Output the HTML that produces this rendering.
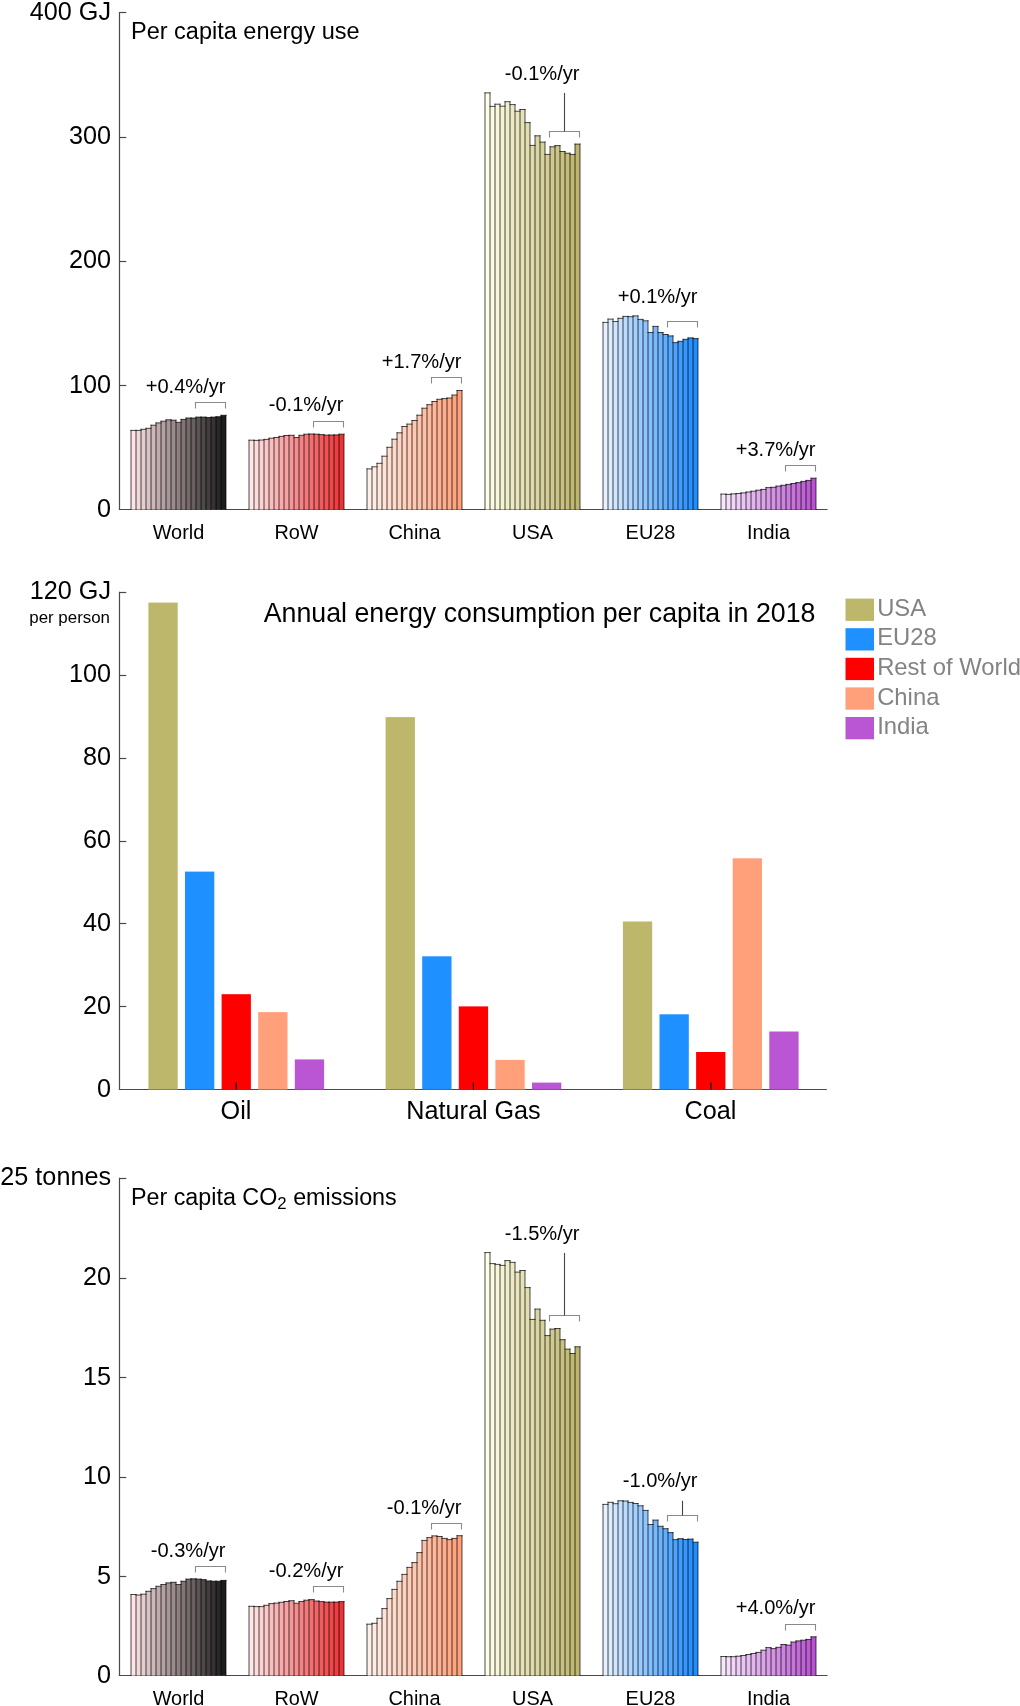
<!DOCTYPE html>
<html><head><meta charset="utf-8"><style>
html,body{margin:0;padding:0;background:#fff;}
body{width:1020px;height:1706px;overflow:hidden;}
svg{display:block;font-family:"Liberation Sans", sans-serif;-webkit-font-smoothing:antialiased;will-change:transform;}
</style></head><body>
<svg width="1020" height="1706" viewBox="0 0 1020 1706">
<rect width="1020" height="1706" fill="#fff"/>
<line x1="119.5" y1="11.9" x2="119.5" y2="510.1" stroke="#4a4a4a" stroke-width="1.2"/>
<line x1="118.9" y1="509.5" x2="827.5" y2="509.5" stroke="#4a4a4a" stroke-width="1.2"/>
<line x1="119.5" y1="12.5" x2="126.3" y2="12.5" stroke="#4a4a4a" stroke-width="1.2"/>
<text x="111" y="19.5" font-size="25.2" text-anchor="end" fill="#000" >400 GJ</text>
<line x1="119.5" y1="137.5" x2="126.3" y2="137.5" stroke="#4a4a4a" stroke-width="1.2"/>
<text x="111" y="144.0" font-size="25.2" text-anchor="end" fill="#000" >300</text>
<line x1="119.5" y1="261.5" x2="126.3" y2="261.5" stroke="#4a4a4a" stroke-width="1.2"/>
<text x="111" y="268.2" font-size="25.2" text-anchor="end" fill="#000" >200</text>
<line x1="119.5" y1="385.5" x2="126.3" y2="385.5" stroke="#4a4a4a" stroke-width="1.2"/>
<text x="111" y="392.6" font-size="25.2" text-anchor="end" fill="#000" >100</text>
<text x="111" y="516.5" font-size="25.2" text-anchor="end" fill="#000" >0</text>
<rect x="131.00" y="430.4" width="5.0" height="79.1" fill="#ffe4e6"/>
<rect x="136.00" y="430.4" width="5.0" height="79.1" fill="#f2d9db"/>
<rect x="141.00" y="429.3" width="5.0" height="80.2" fill="#e6ced0"/>
<rect x="146.00" y="428.3" width="5.0" height="81.2" fill="#d9c3c4"/>
<rect x="151.00" y="425.2" width="5.0" height="84.3" fill="#cdb8b9"/>
<rect x="156.00" y="422.9" width="5.0" height="86.6" fill="#c0acae"/>
<rect x="161.00" y="421.2" width="5.0" height="88.3" fill="#b3a1a3"/>
<rect x="166.00" y="419.8" width="5.0" height="89.7" fill="#a79697"/>
<rect x="171.00" y="420.2" width="5.0" height="89.3" fill="#9a8b8c"/>
<rect x="176.00" y="422.3" width="5.0" height="87.2" fill="#8e8081"/>
<rect x="181.00" y="419.4" width="5.0" height="90.1" fill="#817576"/>
<rect x="186.00" y="418.0" width="5.0" height="91.5" fill="#746a6b"/>
<rect x="191.00" y="418.0" width="5.0" height="91.5" fill="#685f5f"/>
<rect x="196.00" y="417.1" width="5.0" height="92.4" fill="#5b5454"/>
<rect x="201.00" y="417.1" width="5.0" height="92.4" fill="#4e4849"/>
<rect x="206.00" y="417.5" width="5.0" height="92.0" fill="#423d3e"/>
<rect x="211.00" y="417.1" width="5.0" height="92.4" fill="#353232"/>
<rect x="216.00" y="416.7" width="5.0" height="92.8" fill="#292727"/>
<rect x="221.00" y="415.3" width="5.0" height="94.2" fill="#1c1c1c"/>
<path d="M131.00,509.5V430.4 M136.00,509.5V430.4 M141.00,509.5V429.3 M146.00,509.5V428.3 M151.00,509.5V425.2 M156.00,509.5V422.9 M161.00,509.5V421.2 M166.00,509.5V419.8 M171.00,509.5V419.8 M176.00,509.5V420.2 M181.00,509.5V419.4 M186.00,509.5V418.0 M191.00,509.5V418.0 M196.00,509.5V417.1 M201.00,509.5V417.1 M206.00,509.5V417.1 M211.00,509.5V417.1 M216.00,509.5V416.7 M221.00,509.5V415.3 M226.00,509.5V415.3 M131.00,430.4H136.00 M136.00,430.4H141.00 M141.00,429.3H146.00 M146.00,428.3H151.00 M151.00,425.2H156.00 M156.00,422.9H161.00 M161.00,421.2H166.00 M166.00,419.8H171.00 M171.00,420.2H176.00 M176.00,422.3H181.00 M181.00,419.4H186.00 M186.00,418.0H191.00 M191.00,418.0H196.00 M196.00,417.1H201.00 M201.00,417.1H206.00 M206.00,417.5H211.00 M211.00,417.1H216.00 M216.00,416.7H221.00 M221.00,415.3H226.00" fill="none" stroke="#000" stroke-opacity="0.7" stroke-width="1.0" stroke-linecap="square"/>
<path d="M195.5,408.5 V402.5 H225.5 V408.5" fill="none" stroke="#8a8a8a" stroke-width="1.1"/>
<text x="225.5" y="392.8" font-size="20.1" text-anchor="end" fill="#000" >+0.4%/yr</text>
<text x="178.5" y="538.9" font-size="19.9" text-anchor="middle" fill="#000" >World</text>
<rect x="249.00" y="440.2" width="5.0" height="69.3" fill="#ffe6e6"/>
<rect x="254.00" y="440.4" width="5.0" height="69.1" fill="#fedcdc"/>
<rect x="259.00" y="440.0" width="5.0" height="69.5" fill="#fdd2d2"/>
<rect x="264.00" y="439.4" width="5.0" height="70.1" fill="#fcc8c9"/>
<rect x="269.00" y="438.2" width="5.0" height="71.3" fill="#fbbebf"/>
<rect x="274.00" y="437.5" width="5.0" height="72.0" fill="#fab4b5"/>
<rect x="279.00" y="436.4" width="5.0" height="73.1" fill="#f9aaab"/>
<rect x="284.00" y="435.5" width="5.0" height="74.0" fill="#f8a0a2"/>
<rect x="289.00" y="435.3" width="5.0" height="74.2" fill="#f79698"/>
<rect x="294.00" y="437.5" width="5.0" height="72.0" fill="#f68c8e"/>
<rect x="299.00" y="435.3" width="5.0" height="74.2" fill="#f68384"/>
<rect x="304.00" y="434.2" width="5.0" height="75.3" fill="#f5797a"/>
<rect x="309.00" y="434.0" width="5.0" height="75.5" fill="#f46f71"/>
<rect x="314.00" y="434.2" width="5.0" height="75.3" fill="#f36567"/>
<rect x="319.00" y="434.6" width="5.0" height="74.9" fill="#f25b5d"/>
<rect x="324.00" y="435.1" width="5.0" height="74.4" fill="#f15153"/>
<rect x="329.00" y="435.0" width="5.0" height="74.5" fill="#f0474a"/>
<rect x="334.00" y="434.9" width="5.0" height="74.6" fill="#ef3d40"/>
<rect x="339.00" y="434.2" width="5.0" height="75.3" fill="#ee3336"/>
<path d="M249.00,509.5V440.2 M254.00,509.5V440.2 M259.00,509.5V440.0 M264.00,509.5V439.4 M269.00,509.5V438.2 M274.00,509.5V437.5 M279.00,509.5V436.4 M284.00,509.5V435.5 M289.00,509.5V435.3 M294.00,509.5V435.3 M299.00,509.5V435.3 M304.00,509.5V434.2 M309.00,509.5V434.0 M314.00,509.5V434.0 M319.00,509.5V434.2 M324.00,509.5V434.6 M329.00,509.5V435.0 M334.00,509.5V434.9 M339.00,509.5V434.2 M344.00,509.5V434.2 M249.00,440.2H254.00 M254.00,440.4H259.00 M259.00,440.0H264.00 M264.00,439.4H269.00 M269.00,438.2H274.00 M274.00,437.5H279.00 M279.00,436.4H284.00 M284.00,435.5H289.00 M289.00,435.3H294.00 M294.00,437.5H299.00 M299.00,435.3H304.00 M304.00,434.2H309.00 M309.00,434.0H314.00 M314.00,434.2H319.00 M319.00,434.6H324.00 M324.00,435.1H329.00 M329.00,435.0H334.00 M334.00,434.9H339.00 M339.00,434.2H344.00" fill="none" stroke="#000" stroke-opacity="0.7" stroke-width="1.0" stroke-linecap="square"/>
<path d="M313.5,427.5 V421.5 H343.5 V427.5" fill="none" stroke="#8a8a8a" stroke-width="1.1"/>
<text x="343.5" y="411.3" font-size="20.1" text-anchor="end" fill="#000" >-0.1%/yr</text>
<text x="296.5" y="538.9" font-size="19.9" text-anchor="middle" fill="#000" >RoW</text>
<rect x="367.00" y="468.9" width="5.0" height="40.6" fill="#fff0ea"/>
<rect x="372.00" y="466.8" width="5.0" height="42.7" fill="#ffece4"/>
<rect x="377.00" y="463.3" width="5.0" height="46.2" fill="#ffe7de"/>
<rect x="382.00" y="456.2" width="5.0" height="53.3" fill="#ffe3d7"/>
<rect x="387.00" y="447.3" width="5.0" height="62.2" fill="#ffded1"/>
<rect x="392.00" y="439.2" width="5.0" height="70.3" fill="#ffdacb"/>
<rect x="397.00" y="432.8" width="5.0" height="76.7" fill="#ffd5c5"/>
<rect x="402.00" y="426.5" width="5.0" height="83.0" fill="#ffd1be"/>
<rect x="407.00" y="424.1" width="5.0" height="85.4" fill="#ffccb8"/>
<rect x="412.00" y="420.5" width="5.0" height="89.0" fill="#ffc8b2"/>
<rect x="417.00" y="415.2" width="5.0" height="94.3" fill="#ffc4ac"/>
<rect x="422.00" y="408.2" width="5.0" height="101.3" fill="#ffbfa6"/>
<rect x="427.00" y="404.7" width="5.0" height="104.8" fill="#ffbb9f"/>
<rect x="432.00" y="401.5" width="5.0" height="108.0" fill="#ffb699"/>
<rect x="437.00" y="399.3" width="5.0" height="110.2" fill="#ffb293"/>
<rect x="442.00" y="398.6" width="5.0" height="110.9" fill="#ffad8d"/>
<rect x="447.00" y="398.0" width="5.0" height="111.5" fill="#ffa986"/>
<rect x="452.00" y="395.0" width="5.0" height="114.5" fill="#ffa480"/>
<rect x="457.00" y="390.5" width="5.0" height="119.0" fill="#ffa07a"/>
<path d="M367.00,509.5V468.9 M372.00,509.5V466.8 M377.00,509.5V463.3 M382.00,509.5V456.2 M387.00,509.5V447.3 M392.00,509.5V439.2 M397.00,509.5V432.8 M402.00,509.5V426.5 M407.00,509.5V424.1 M412.00,509.5V420.5 M417.00,509.5V415.2 M422.00,509.5V408.2 M427.00,509.5V404.7 M432.00,509.5V401.5 M437.00,509.5V399.3 M442.00,509.5V398.6 M447.00,509.5V398.0 M452.00,509.5V395.0 M457.00,509.5V390.5 M462.00,509.5V390.5 M367.00,468.9H372.00 M372.00,466.8H377.00 M377.00,463.3H382.00 M382.00,456.2H387.00 M387.00,447.3H392.00 M392.00,439.2H397.00 M397.00,432.8H402.00 M402.00,426.5H407.00 M407.00,424.1H412.00 M412.00,420.5H417.00 M417.00,415.2H422.00 M422.00,408.2H427.00 M427.00,404.7H432.00 M432.00,401.5H437.00 M437.00,399.3H442.00 M442.00,398.6H447.00 M447.00,398.0H452.00 M452.00,395.0H457.00 M457.00,390.5H462.00" fill="none" stroke="#000" stroke-opacity="0.7" stroke-width="1.0" stroke-linecap="square"/>
<path d="M431.5,383.5 V377.5 H461.5 V383.5" fill="none" stroke="#8a8a8a" stroke-width="1.1"/>
<text x="461.5" y="368.2" font-size="20.1" text-anchor="end" fill="#000" >+1.7%/yr</text>
<text x="414.5" y="538.9" font-size="19.9" text-anchor="middle" fill="#000" >China</text>
<rect x="485.00" y="92.9" width="5.0" height="416.6" fill="#ffffe8"/>
<rect x="490.00" y="106.4" width="5.0" height="403.1" fill="#fbfbe1"/>
<rect x="495.00" y="104.2" width="5.0" height="405.3" fill="#f8f7da"/>
<rect x="500.00" y="106.2" width="5.0" height="403.3" fill="#f4f3d3"/>
<rect x="505.00" y="101.7" width="5.0" height="407.8" fill="#f0efcc"/>
<rect x="510.00" y="104.6" width="5.0" height="404.9" fill="#edeac5"/>
<rect x="515.00" y="111.2" width="5.0" height="398.3" fill="#e9e6be"/>
<rect x="520.00" y="109.5" width="5.0" height="400.0" fill="#e5e2b7"/>
<rect x="525.00" y="122.6" width="5.0" height="386.9" fill="#e2deb0"/>
<rect x="530.00" y="145.4" width="5.0" height="364.1" fill="#dedaaa"/>
<rect x="535.00" y="135.8" width="5.0" height="373.7" fill="#dad6a3"/>
<rect x="540.00" y="142.1" width="5.0" height="367.4" fill="#d7d29c"/>
<rect x="545.00" y="154.4" width="5.0" height="355.1" fill="#d3ce95"/>
<rect x="550.00" y="146.8" width="5.0" height="362.7" fill="#cfca8e"/>
<rect x="555.00" y="145.6" width="5.0" height="363.9" fill="#ccc587"/>
<rect x="560.00" y="151.5" width="5.0" height="358.0" fill="#c8c180"/>
<rect x="565.00" y="153.2" width="5.0" height="356.3" fill="#c4bd79"/>
<rect x="570.00" y="154.4" width="5.0" height="355.1" fill="#c1b972"/>
<rect x="575.00" y="144.1" width="5.0" height="365.4" fill="#bdb56b"/>
<path d="M485.00,509.5V92.9 M490.00,509.5V92.9 M495.00,509.5V104.2 M500.00,509.5V104.2 M505.00,509.5V101.7 M510.00,509.5V101.7 M515.00,509.5V104.6 M520.00,509.5V109.5 M525.00,509.5V109.5 M530.00,509.5V122.6 M535.00,509.5V135.8 M540.00,509.5V135.8 M545.00,509.5V142.1 M550.00,509.5V146.8 M555.00,509.5V145.6 M560.00,509.5V145.6 M565.00,509.5V151.5 M570.00,509.5V153.2 M575.00,509.5V144.1 M580.00,509.5V144.1 M485.00,92.9H490.00 M490.00,106.4H495.00 M495.00,104.2H500.00 M500.00,106.2H505.00 M505.00,101.7H510.00 M510.00,104.6H515.00 M515.00,111.2H520.00 M520.00,109.5H525.00 M525.00,122.6H530.00 M530.00,145.4H535.00 M535.00,135.8H540.00 M540.00,142.1H545.00 M545.00,154.4H550.00 M550.00,146.8H555.00 M555.00,145.6H560.00 M560.00,151.5H565.00 M565.00,153.2H570.00 M570.00,154.4H575.00 M575.00,144.1H580.00" fill="none" stroke="#000" stroke-opacity="0.7" stroke-width="1.0" stroke-linecap="square"/>
<path d="M549.5,137.5 V131.5 H579.5 V137.5" fill="none" stroke="#8a8a8a" stroke-width="1.1"/>
<line x1="564.5" y1="131.5" x2="564.5" y2="92.9" stroke="#444" stroke-width="1.1"/>
<text x="579.5" y="79.8" font-size="20.1" text-anchor="end" fill="#000" >-0.1%/yr</text>
<text x="532.5" y="538.9" font-size="19.9" text-anchor="middle" fill="#000" >USA</text>
<rect x="603.00" y="322.4" width="5.0" height="187.1" fill="#e6f2ff"/>
<rect x="608.00" y="319.1" width="5.0" height="190.4" fill="#dbecff"/>
<rect x="613.00" y="321.5" width="5.0" height="188.0" fill="#d0e7ff"/>
<rect x="618.00" y="318.3" width="5.0" height="191.2" fill="#c5e1ff"/>
<rect x="623.00" y="316.4" width="5.0" height="193.1" fill="#badbff"/>
<rect x="628.00" y="316.7" width="5.0" height="192.8" fill="#aed6ff"/>
<rect x="633.00" y="315.9" width="5.0" height="193.6" fill="#a3d0ff"/>
<rect x="638.00" y="319.4" width="5.0" height="190.1" fill="#98caff"/>
<rect x="643.00" y="320.8" width="5.0" height="188.7" fill="#8dc5ff"/>
<rect x="648.00" y="332.5" width="5.0" height="177.0" fill="#82bfff"/>
<rect x="653.00" y="326.4" width="5.0" height="183.1" fill="#77b9ff"/>
<rect x="658.00" y="332.5" width="5.0" height="177.0" fill="#6cb4ff"/>
<rect x="663.00" y="334.5" width="5.0" height="175.0" fill="#61aeff"/>
<rect x="668.00" y="335.9" width="5.0" height="173.6" fill="#56a8ff"/>
<rect x="673.00" y="342.6" width="5.0" height="166.9" fill="#4aa3ff"/>
<rect x="678.00" y="341.3" width="5.0" height="168.2" fill="#3f9dff"/>
<rect x="683.00" y="339.3" width="5.0" height="170.2" fill="#3497ff"/>
<rect x="688.00" y="337.9" width="5.0" height="171.6" fill="#2992ff"/>
<rect x="693.00" y="338.6" width="5.0" height="170.9" fill="#1e8cff"/>
<path d="M603.00,509.5V322.4 M608.00,509.5V319.1 M613.00,509.5V319.1 M618.00,509.5V318.3 M623.00,509.5V316.4 M628.00,509.5V316.4 M633.00,509.5V315.9 M638.00,509.5V315.9 M643.00,509.5V319.4 M648.00,509.5V320.8 M653.00,509.5V326.4 M658.00,509.5V326.4 M663.00,509.5V332.5 M668.00,509.5V334.5 M673.00,509.5V335.9 M678.00,509.5V341.3 M683.00,509.5V339.3 M688.00,509.5V337.9 M693.00,509.5V337.9 M698.00,509.5V338.6 M603.00,322.4H608.00 M608.00,319.1H613.00 M613.00,321.5H618.00 M618.00,318.3H623.00 M623.00,316.4H628.00 M628.00,316.7H633.00 M633.00,315.9H638.00 M638.00,319.4H643.00 M643.00,320.8H648.00 M648.00,332.5H653.00 M653.00,326.4H658.00 M658.00,332.5H663.00 M663.00,334.5H668.00 M668.00,335.9H673.00 M673.00,342.6H678.00 M678.00,341.3H683.00 M683.00,339.3H688.00 M688.00,337.9H693.00 M693.00,338.6H698.00" fill="none" stroke="#000" stroke-opacity="0.7" stroke-width="1.0" stroke-linecap="square"/>
<path d="M667.5,327.5 V321.5 H697.5 V327.5" fill="none" stroke="#8a8a8a" stroke-width="1.1"/>
<text x="697.5" y="303.0" font-size="20.1" text-anchor="end" fill="#000" >+0.1%/yr</text>
<text x="650.5" y="538.9" font-size="19.9" text-anchor="middle" fill="#000" >EU28</text>
<rect x="721.00" y="494.1" width="5.0" height="15.4" fill="#f8e6fc"/>
<rect x="726.00" y="494.4" width="5.0" height="15.1" fill="#f4defa"/>
<rect x="731.00" y="493.9" width="5.0" height="15.6" fill="#f1d6f7"/>
<rect x="736.00" y="493.5" width="5.0" height="16.0" fill="#edcdf5"/>
<rect x="741.00" y="492.9" width="5.0" height="16.6" fill="#eac5f3"/>
<rect x="746.00" y="492.0" width="5.0" height="17.5" fill="#e6bdf0"/>
<rect x="751.00" y="491.2" width="5.0" height="18.3" fill="#e3b5ee"/>
<rect x="756.00" y="490.2" width="5.0" height="19.3" fill="#dfacec"/>
<rect x="761.00" y="489.4" width="5.0" height="20.1" fill="#dca4e9"/>
<rect x="766.00" y="487.6" width="5.0" height="21.9" fill="#d89ce7"/>
<rect x="771.00" y="487.3" width="5.0" height="22.2" fill="#d494e5"/>
<rect x="776.00" y="486.1" width="5.0" height="23.4" fill="#d18ce2"/>
<rect x="781.00" y="485.3" width="5.0" height="24.2" fill="#cd83e0"/>
<rect x="786.00" y="484.4" width="5.0" height="25.1" fill="#ca7bde"/>
<rect x="791.00" y="483.5" width="5.0" height="26.0" fill="#c673db"/>
<rect x="796.00" y="482.6" width="5.0" height="26.9" fill="#c36bd9"/>
<rect x="801.00" y="481.4" width="5.0" height="28.1" fill="#bf62d7"/>
<rect x="806.00" y="480.4" width="5.0" height="29.1" fill="#bc5ad4"/>
<rect x="811.00" y="478.2" width="5.0" height="31.3" fill="#b852d2"/>
<path d="M721.00,509.5V494.1 M726.00,509.5V494.1 M731.00,509.5V493.9 M736.00,509.5V493.5 M741.00,509.5V492.9 M746.00,509.5V492.0 M751.00,509.5V491.2 M756.00,509.5V490.2 M761.00,509.5V489.4 M766.00,509.5V487.6 M771.00,509.5V487.3 M776.00,509.5V486.1 M781.00,509.5V485.3 M786.00,509.5V484.4 M791.00,509.5V483.5 M796.00,509.5V482.6 M801.00,509.5V481.4 M806.00,509.5V480.4 M811.00,509.5V478.2 M816.00,509.5V478.2 M721.00,494.1H726.00 M726.00,494.4H731.00 M731.00,493.9H736.00 M736.00,493.5H741.00 M741.00,492.9H746.00 M746.00,492.0H751.00 M751.00,491.2H756.00 M756.00,490.2H761.00 M761.00,489.4H766.00 M766.00,487.6H771.00 M771.00,487.3H776.00 M776.00,486.1H781.00 M781.00,485.3H786.00 M786.00,484.4H791.00 M791.00,483.5H796.00 M796.00,482.6H801.00 M801.00,481.4H806.00 M806.00,480.4H811.00 M811.00,478.2H816.00" fill="none" stroke="#000" stroke-opacity="0.7" stroke-width="1.0" stroke-linecap="square"/>
<path d="M785.5,471.5 V465.5 H815.5 V471.5" fill="none" stroke="#8a8a8a" stroke-width="1.1"/>
<text x="815.5" y="456.0" font-size="20.1" text-anchor="end" fill="#000" >+3.7%/yr</text>
<text x="768.5" y="538.9" font-size="19.9" text-anchor="middle" fill="#000" >India</text>
<text x="131" y="38.7" font-size="23.5" text-anchor="start" fill="#000" >Per capita energy use</text>
<line x1="119.5" y1="1177.7" x2="119.5" y2="1676.1" stroke="#4a4a4a" stroke-width="1.2"/>
<line x1="118.9" y1="1675.5" x2="827.5" y2="1675.5" stroke="#4a4a4a" stroke-width="1.2"/>
<line x1="119.5" y1="1178.5" x2="126.3" y2="1178.5" stroke="#4a4a4a" stroke-width="1.2"/>
<text x="111" y="1185.3" font-size="25.2" text-anchor="end" fill="#000" >25 tonnes</text>
<line x1="119.5" y1="1278.5" x2="126.3" y2="1278.5" stroke="#4a4a4a" stroke-width="1.2"/>
<text x="111" y="1285.0" font-size="25.2" text-anchor="end" fill="#000" >20</text>
<line x1="119.5" y1="1377.5" x2="126.3" y2="1377.5" stroke="#4a4a4a" stroke-width="1.2"/>
<text x="111" y="1384.6" font-size="25.2" text-anchor="end" fill="#000" >15</text>
<line x1="119.5" y1="1477.5" x2="126.3" y2="1477.5" stroke="#4a4a4a" stroke-width="1.2"/>
<text x="111" y="1484.2" font-size="25.2" text-anchor="end" fill="#000" >10</text>
<line x1="119.5" y1="1576.5" x2="126.3" y2="1576.5" stroke="#4a4a4a" stroke-width="1.2"/>
<text x="111" y="1583.6" font-size="25.2" text-anchor="end" fill="#000" >5</text>
<text x="111" y="1682.5" font-size="25.2" text-anchor="end" fill="#000" >0</text>
<rect x="131.00" y="1594.5" width="5.0" height="81.0" fill="#ffe4e6"/>
<rect x="136.00" y="1595.0" width="5.0" height="80.5" fill="#f2d9db"/>
<rect x="141.00" y="1594.2" width="5.0" height="81.3" fill="#e6ced0"/>
<rect x="146.00" y="1591.3" width="5.0" height="84.2" fill="#d9c3c4"/>
<rect x="151.00" y="1588.6" width="5.0" height="86.9" fill="#cdb8b9"/>
<rect x="156.00" y="1586.3" width="5.0" height="89.2" fill="#c0acae"/>
<rect x="161.00" y="1584.5" width="5.0" height="91.0" fill="#b3a1a3"/>
<rect x="166.00" y="1582.9" width="5.0" height="92.6" fill="#a79697"/>
<rect x="171.00" y="1582.3" width="5.0" height="93.2" fill="#9a8b8c"/>
<rect x="176.00" y="1584.5" width="5.0" height="91.0" fill="#8e8081"/>
<rect x="181.00" y="1581.2" width="5.0" height="94.3" fill="#817576"/>
<rect x="186.00" y="1579.1" width="5.0" height="96.4" fill="#746a6b"/>
<rect x="191.00" y="1578.8" width="5.0" height="96.7" fill="#685f5f"/>
<rect x="196.00" y="1579.1" width="5.0" height="96.4" fill="#5b5454"/>
<rect x="201.00" y="1579.6" width="5.0" height="95.9" fill="#4e4849"/>
<rect x="206.00" y="1580.9" width="5.0" height="94.6" fill="#423d3e"/>
<rect x="211.00" y="1581.2" width="5.0" height="94.3" fill="#353232"/>
<rect x="216.00" y="1581.2" width="5.0" height="94.3" fill="#292727"/>
<rect x="221.00" y="1580.4" width="5.0" height="95.1" fill="#1c1c1c"/>
<path d="M131.00,1675.5V1594.5 M136.00,1675.5V1594.5 M141.00,1675.5V1594.2 M146.00,1675.5V1591.3 M151.00,1675.5V1588.6 M156.00,1675.5V1586.3 M161.00,1675.5V1584.5 M166.00,1675.5V1582.9 M171.00,1675.5V1582.3 M176.00,1675.5V1582.3 M181.00,1675.5V1581.2 M186.00,1675.5V1579.1 M191.00,1675.5V1578.8 M196.00,1675.5V1578.8 M201.00,1675.5V1579.1 M206.00,1675.5V1579.6 M211.00,1675.5V1580.9 M216.00,1675.5V1581.2 M221.00,1675.5V1580.4 M226.00,1675.5V1580.4 M131.00,1594.5H136.00 M136.00,1595.0H141.00 M141.00,1594.2H146.00 M146.00,1591.3H151.00 M151.00,1588.6H156.00 M156.00,1586.3H161.00 M161.00,1584.5H166.00 M166.00,1582.9H171.00 M171.00,1582.3H176.00 M176.00,1584.5H181.00 M181.00,1581.2H186.00 M186.00,1579.1H191.00 M191.00,1578.8H196.00 M196.00,1579.1H201.00 M201.00,1579.6H206.00 M206.00,1580.9H211.00 M211.00,1581.2H216.00 M216.00,1581.2H221.00 M221.00,1580.4H226.00" fill="none" stroke="#000" stroke-opacity="0.7" stroke-width="1.0" stroke-linecap="square"/>
<path d="M195.5,1572.5 V1566.5 H225.5 V1572.5" fill="none" stroke="#8a8a8a" stroke-width="1.1"/>
<text x="225.5" y="1556.6" font-size="20.1" text-anchor="end" fill="#000" >-0.3%/yr</text>
<text x="178.5" y="1705.0" font-size="19.9" text-anchor="middle" fill="#000" >World</text>
<rect x="249.00" y="1606.3" width="5.0" height="69.2" fill="#ffe6e6"/>
<rect x="254.00" y="1606.6" width="5.0" height="68.9" fill="#fedcdc"/>
<rect x="259.00" y="1606.6" width="5.0" height="68.9" fill="#fdd2d2"/>
<rect x="264.00" y="1605.3" width="5.0" height="70.2" fill="#fcc8c9"/>
<rect x="269.00" y="1603.6" width="5.0" height="71.9" fill="#fbbebf"/>
<rect x="274.00" y="1603.1" width="5.0" height="72.4" fill="#fab4b5"/>
<rect x="279.00" y="1602.3" width="5.0" height="73.2" fill="#f9aaab"/>
<rect x="284.00" y="1601.5" width="5.0" height="74.0" fill="#f8a0a2"/>
<rect x="289.00" y="1600.7" width="5.0" height="74.8" fill="#f79698"/>
<rect x="294.00" y="1603.2" width="5.0" height="72.3" fill="#f68c8e"/>
<rect x="299.00" y="1601.5" width="5.0" height="74.0" fill="#f68384"/>
<rect x="304.00" y="1600.2" width="5.0" height="75.3" fill="#f5797a"/>
<rect x="309.00" y="1599.6" width="5.0" height="75.9" fill="#f46f71"/>
<rect x="314.00" y="1601.0" width="5.0" height="74.5" fill="#f36567"/>
<rect x="319.00" y="1601.6" width="5.0" height="73.9" fill="#f25b5d"/>
<rect x="324.00" y="1602.1" width="5.0" height="73.4" fill="#f15153"/>
<rect x="329.00" y="1602.1" width="5.0" height="73.4" fill="#f0474a"/>
<rect x="334.00" y="1602.1" width="5.0" height="73.4" fill="#ef3d40"/>
<rect x="339.00" y="1601.6" width="5.0" height="73.9" fill="#ee3336"/>
<path d="M249.00,1675.5V1606.3 M254.00,1675.5V1606.3 M259.00,1675.5V1606.6 M264.00,1675.5V1605.3 M269.00,1675.5V1603.6 M274.00,1675.5V1603.1 M279.00,1675.5V1602.3 M284.00,1675.5V1601.5 M289.00,1675.5V1600.7 M294.00,1675.5V1600.7 M299.00,1675.5V1601.5 M304.00,1675.5V1600.2 M309.00,1675.5V1599.6 M314.00,1675.5V1599.6 M319.00,1675.5V1601.0 M324.00,1675.5V1601.6 M329.00,1675.5V1602.1 M334.00,1675.5V1602.1 M339.00,1675.5V1601.6 M344.00,1675.5V1601.6 M249.00,1606.3H254.00 M254.00,1606.6H259.00 M259.00,1606.6H264.00 M264.00,1605.3H269.00 M269.00,1603.6H274.00 M274.00,1603.1H279.00 M279.00,1602.3H284.00 M284.00,1601.5H289.00 M289.00,1600.7H294.00 M294.00,1603.2H299.00 M299.00,1601.5H304.00 M304.00,1600.2H309.00 M309.00,1599.6H314.00 M314.00,1601.0H319.00 M319.00,1601.6H324.00 M324.00,1602.1H329.00 M329.00,1602.1H334.00 M334.00,1602.1H339.00 M339.00,1601.6H344.00" fill="none" stroke="#000" stroke-opacity="0.7" stroke-width="1.0" stroke-linecap="square"/>
<path d="M313.5,1592.5 V1586.5 H343.5 V1592.5" fill="none" stroke="#8a8a8a" stroke-width="1.1"/>
<text x="343.5" y="1576.6" font-size="20.1" text-anchor="end" fill="#000" >-0.2%/yr</text>
<text x="296.5" y="1705.0" font-size="19.9" text-anchor="middle" fill="#000" >RoW</text>
<rect x="367.00" y="1624.2" width="5.0" height="51.3" fill="#fff0ea"/>
<rect x="372.00" y="1623.3" width="5.0" height="52.2" fill="#ffece4"/>
<rect x="377.00" y="1618.3" width="5.0" height="57.2" fill="#ffe7de"/>
<rect x="382.00" y="1608.6" width="5.0" height="66.9" fill="#ffe3d7"/>
<rect x="387.00" y="1598.6" width="5.0" height="76.9" fill="#ffded1"/>
<rect x="392.00" y="1589.4" width="5.0" height="86.1" fill="#ffdacb"/>
<rect x="397.00" y="1581.3" width="5.0" height="94.2" fill="#ffd5c5"/>
<rect x="402.00" y="1574.4" width="5.0" height="101.1" fill="#ffd1be"/>
<rect x="407.00" y="1567.4" width="5.0" height="108.1" fill="#ffccb8"/>
<rect x="412.00" y="1562.6" width="5.0" height="112.9" fill="#ffc8b2"/>
<rect x="417.00" y="1552.6" width="5.0" height="122.9" fill="#ffc4ac"/>
<rect x="422.00" y="1540.4" width="5.0" height="135.1" fill="#ffbfa6"/>
<rect x="427.00" y="1537.6" width="5.0" height="137.9" fill="#ffbb9f"/>
<rect x="432.00" y="1535.9" width="5.0" height="139.6" fill="#ffb699"/>
<rect x="437.00" y="1536.5" width="5.0" height="139.0" fill="#ffb293"/>
<rect x="442.00" y="1538.4" width="5.0" height="137.1" fill="#ffad8d"/>
<rect x="447.00" y="1539.6" width="5.0" height="135.9" fill="#ffa986"/>
<rect x="452.00" y="1538.4" width="5.0" height="137.1" fill="#ffa480"/>
<rect x="457.00" y="1535.7" width="5.0" height="139.8" fill="#ffa07a"/>
<path d="M367.00,1675.5V1624.2 M372.00,1675.5V1623.3 M377.00,1675.5V1618.3 M382.00,1675.5V1608.6 M387.00,1675.5V1598.6 M392.00,1675.5V1589.4 M397.00,1675.5V1581.3 M402.00,1675.5V1574.4 M407.00,1675.5V1567.4 M412.00,1675.5V1562.6 M417.00,1675.5V1552.6 M422.00,1675.5V1540.4 M427.00,1675.5V1537.6 M432.00,1675.5V1535.9 M437.00,1675.5V1535.9 M442.00,1675.5V1536.5 M447.00,1675.5V1538.4 M452.00,1675.5V1538.4 M457.00,1675.5V1535.7 M462.00,1675.5V1535.7 M367.00,1624.2H372.00 M372.00,1623.3H377.00 M377.00,1618.3H382.00 M382.00,1608.6H387.00 M387.00,1598.6H392.00 M392.00,1589.4H397.00 M397.00,1581.3H402.00 M402.00,1574.4H407.00 M407.00,1567.4H412.00 M412.00,1562.6H417.00 M417.00,1552.6H422.00 M422.00,1540.4H427.00 M427.00,1537.6H432.00 M432.00,1535.9H437.00 M437.00,1536.5H442.00 M442.00,1538.4H447.00 M447.00,1539.6H452.00 M452.00,1538.4H457.00 M457.00,1535.7H462.00" fill="none" stroke="#000" stroke-opacity="0.7" stroke-width="1.0" stroke-linecap="square"/>
<path d="M431.5,1529.5 V1523.5 H461.5 V1529.5" fill="none" stroke="#8a8a8a" stroke-width="1.1"/>
<text x="461.5" y="1513.5" font-size="20.1" text-anchor="end" fill="#000" >-0.1%/yr</text>
<text x="414.5" y="1705.0" font-size="19.9" text-anchor="middle" fill="#000" >China</text>
<rect x="485.00" y="1252.6" width="5.0" height="422.9" fill="#ffffe8"/>
<rect x="490.00" y="1263.6" width="5.0" height="411.9" fill="#fbfbe1"/>
<rect x="495.00" y="1264.4" width="5.0" height="411.1" fill="#f8f7da"/>
<rect x="500.00" y="1265.4" width="5.0" height="410.1" fill="#f4f3d3"/>
<rect x="505.00" y="1260.6" width="5.0" height="414.9" fill="#f0efcc"/>
<rect x="510.00" y="1262.4" width="5.0" height="413.1" fill="#edeac5"/>
<rect x="515.00" y="1272.1" width="5.0" height="403.4" fill="#e9e6be"/>
<rect x="520.00" y="1270.5" width="5.0" height="405.0" fill="#e5e2b7"/>
<rect x="525.00" y="1287.6" width="5.0" height="387.9" fill="#e2deb0"/>
<rect x="530.00" y="1319.4" width="5.0" height="356.1" fill="#dedaaa"/>
<rect x="535.00" y="1309.1" width="5.0" height="366.4" fill="#dad6a3"/>
<rect x="540.00" y="1320.3" width="5.0" height="355.2" fill="#d7d29c"/>
<rect x="545.00" y="1335.6" width="5.0" height="339.9" fill="#d3ce95"/>
<rect x="550.00" y="1329.1" width="5.0" height="346.4" fill="#cfca8e"/>
<rect x="555.00" y="1328.5" width="5.0" height="347.0" fill="#ccc587"/>
<rect x="560.00" y="1339.7" width="5.0" height="335.8" fill="#c8c180"/>
<rect x="565.00" y="1349.1" width="5.0" height="326.4" fill="#c4bd79"/>
<rect x="570.00" y="1353.5" width="5.0" height="322.0" fill="#c1b972"/>
<rect x="575.00" y="1346.8" width="5.0" height="328.7" fill="#bdb56b"/>
<path d="M485.00,1675.5V1252.6 M490.00,1675.5V1252.6 M495.00,1675.5V1263.6 M500.00,1675.5V1264.4 M505.00,1675.5V1260.6 M510.00,1675.5V1260.6 M515.00,1675.5V1262.4 M520.00,1675.5V1270.5 M525.00,1675.5V1270.5 M530.00,1675.5V1287.6 M535.00,1675.5V1309.1 M540.00,1675.5V1309.1 M545.00,1675.5V1320.3 M550.00,1675.5V1329.1 M555.00,1675.5V1328.5 M560.00,1675.5V1328.5 M565.00,1675.5V1339.7 M570.00,1675.5V1349.1 M575.00,1675.5V1346.8 M580.00,1675.5V1346.8 M485.00,1252.6H490.00 M490.00,1263.6H495.00 M495.00,1264.4H500.00 M500.00,1265.4H505.00 M505.00,1260.6H510.00 M510.00,1262.4H515.00 M515.00,1272.1H520.00 M520.00,1270.5H525.00 M525.00,1287.6H530.00 M530.00,1319.4H535.00 M535.00,1309.1H540.00 M540.00,1320.3H545.00 M545.00,1335.6H550.00 M550.00,1329.1H555.00 M555.00,1328.5H560.00 M560.00,1339.7H565.00 M565.00,1349.1H570.00 M570.00,1353.5H575.00 M575.00,1346.8H580.00" fill="none" stroke="#000" stroke-opacity="0.7" stroke-width="1.0" stroke-linecap="square"/>
<path d="M549.5,1321.5 V1315.5 H579.5 V1321.5" fill="none" stroke="#8a8a8a" stroke-width="1.1"/>
<line x1="564.5" y1="1315.5" x2="564.5" y2="1252.9" stroke="#444" stroke-width="1.1"/>
<text x="579.5" y="1239.8" font-size="20.1" text-anchor="end" fill="#000" >-1.5%/yr</text>
<text x="532.5" y="1705.0" font-size="19.9" text-anchor="middle" fill="#000" >USA</text>
<rect x="603.00" y="1504.4" width="5.0" height="171.1" fill="#e6f2ff"/>
<rect x="608.00" y="1502.3" width="5.0" height="173.2" fill="#dbecff"/>
<rect x="613.00" y="1503.7" width="5.0" height="171.8" fill="#d0e7ff"/>
<rect x="618.00" y="1500.8" width="5.0" height="174.7" fill="#c5e1ff"/>
<rect x="623.00" y="1501.0" width="5.0" height="174.5" fill="#badbff"/>
<rect x="628.00" y="1502.4" width="5.0" height="173.1" fill="#aed6ff"/>
<rect x="633.00" y="1503.5" width="5.0" height="172.0" fill="#a3d0ff"/>
<rect x="638.00" y="1505.8" width="5.0" height="169.7" fill="#98caff"/>
<rect x="643.00" y="1510.4" width="5.0" height="165.1" fill="#8dc5ff"/>
<rect x="648.00" y="1524.5" width="5.0" height="151.0" fill="#82bfff"/>
<rect x="653.00" y="1520.1" width="5.0" height="155.4" fill="#77b9ff"/>
<rect x="658.00" y="1526.3" width="5.0" height="149.2" fill="#6cb4ff"/>
<rect x="663.00" y="1528.7" width="5.0" height="146.8" fill="#61aeff"/>
<rect x="668.00" y="1532.6" width="5.0" height="142.9" fill="#56a8ff"/>
<rect x="673.00" y="1539.6" width="5.0" height="135.9" fill="#4aa3ff"/>
<rect x="678.00" y="1538.7" width="5.0" height="136.8" fill="#3f9dff"/>
<rect x="683.00" y="1539.5" width="5.0" height="136.0" fill="#3497ff"/>
<rect x="688.00" y="1539.1" width="5.0" height="136.4" fill="#2992ff"/>
<rect x="693.00" y="1542.2" width="5.0" height="133.3" fill="#1e8cff"/>
<path d="M603.00,1675.5V1504.4 M608.00,1675.5V1502.3 M613.00,1675.5V1502.3 M618.00,1675.5V1500.8 M623.00,1675.5V1500.8 M628.00,1675.5V1501.0 M633.00,1675.5V1502.4 M638.00,1675.5V1503.5 M643.00,1675.5V1505.8 M648.00,1675.5V1510.4 M653.00,1675.5V1520.1 M658.00,1675.5V1520.1 M663.00,1675.5V1526.3 M668.00,1675.5V1528.7 M673.00,1675.5V1532.6 M678.00,1675.5V1538.7 M683.00,1675.5V1538.7 M688.00,1675.5V1539.1 M693.00,1675.5V1539.1 M698.00,1675.5V1542.2 M603.00,1504.4H608.00 M608.00,1502.3H613.00 M613.00,1503.7H618.00 M618.00,1500.8H623.00 M623.00,1501.0H628.00 M628.00,1502.4H633.00 M633.00,1503.5H638.00 M638.00,1505.8H643.00 M643.00,1510.4H648.00 M648.00,1524.5H653.00 M653.00,1520.1H658.00 M658.00,1526.3H663.00 M663.00,1528.7H668.00 M668.00,1532.6H673.00 M673.00,1539.6H678.00 M678.00,1538.7H683.00 M683.00,1539.5H688.00 M688.00,1539.1H693.00 M693.00,1542.2H698.00" fill="none" stroke="#000" stroke-opacity="0.7" stroke-width="1.0" stroke-linecap="square"/>
<path d="M667.5,1521.5 V1515.5 H697.5 V1521.5" fill="none" stroke="#8a8a8a" stroke-width="1.1"/>
<line x1="682.5" y1="1515.5" x2="682.5" y2="1500.8" stroke="#444" stroke-width="1.1"/>
<text x="697.5" y="1487.1" font-size="20.1" text-anchor="end" fill="#000" >-1.0%/yr</text>
<text x="650.5" y="1705.0" font-size="19.9" text-anchor="middle" fill="#000" >EU28</text>
<rect x="721.00" y="1656.5" width="5.0" height="19.0" fill="#f8e6fc"/>
<rect x="726.00" y="1656.7" width="5.0" height="18.8" fill="#f4defa"/>
<rect x="731.00" y="1656.7" width="5.0" height="18.8" fill="#f1d6f7"/>
<rect x="736.00" y="1656.2" width="5.0" height="19.3" fill="#edcdf5"/>
<rect x="741.00" y="1655.5" width="5.0" height="20.0" fill="#eac5f3"/>
<rect x="746.00" y="1654.5" width="5.0" height="21.0" fill="#e6bdf0"/>
<rect x="751.00" y="1653.5" width="5.0" height="22.0" fill="#e3b5ee"/>
<rect x="756.00" y="1652.4" width="5.0" height="23.1" fill="#dfacec"/>
<rect x="761.00" y="1650.2" width="5.0" height="25.3" fill="#dca4e9"/>
<rect x="766.00" y="1647.6" width="5.0" height="27.9" fill="#d89ce7"/>
<rect x="771.00" y="1648.6" width="5.0" height="26.9" fill="#d494e5"/>
<rect x="776.00" y="1647.3" width="5.0" height="28.2" fill="#d18ce2"/>
<rect x="781.00" y="1644.5" width="5.0" height="31.0" fill="#cd83e0"/>
<rect x="786.00" y="1645.1" width="5.0" height="30.4" fill="#ca7bde"/>
<rect x="791.00" y="1642.0" width="5.0" height="33.5" fill="#c673db"/>
<rect x="796.00" y="1640.9" width="5.0" height="34.6" fill="#c36bd9"/>
<rect x="801.00" y="1640.2" width="5.0" height="35.3" fill="#bf62d7"/>
<rect x="806.00" y="1639.4" width="5.0" height="36.1" fill="#bc5ad4"/>
<rect x="811.00" y="1636.8" width="5.0" height="38.7" fill="#b852d2"/>
<path d="M721.00,1675.5V1656.5 M726.00,1675.5V1656.5 M731.00,1675.5V1656.7 M736.00,1675.5V1656.2 M741.00,1675.5V1655.5 M746.00,1675.5V1654.5 M751.00,1675.5V1653.5 M756.00,1675.5V1652.4 M761.00,1675.5V1650.2 M766.00,1675.5V1647.6 M771.00,1675.5V1647.6 M776.00,1675.5V1647.3 M781.00,1675.5V1644.5 M786.00,1675.5V1644.5 M791.00,1675.5V1642.0 M796.00,1675.5V1640.9 M801.00,1675.5V1640.2 M806.00,1675.5V1639.4 M811.00,1675.5V1636.8 M816.00,1675.5V1636.8 M721.00,1656.5H726.00 M726.00,1656.7H731.00 M731.00,1656.7H736.00 M736.00,1656.2H741.00 M741.00,1655.5H746.00 M746.00,1654.5H751.00 M751.00,1653.5H756.00 M756.00,1652.4H761.00 M761.00,1650.2H766.00 M766.00,1647.6H771.00 M771.00,1648.6H776.00 M776.00,1647.3H781.00 M781.00,1644.5H786.00 M786.00,1645.1H791.00 M791.00,1642.0H796.00 M796.00,1640.9H801.00 M801.00,1640.2H806.00 M806.00,1639.4H811.00 M811.00,1636.8H816.00" fill="none" stroke="#000" stroke-opacity="0.7" stroke-width="1.0" stroke-linecap="square"/>
<path d="M785.5,1630.5 V1624.5 H815.5 V1630.5" fill="none" stroke="#8a8a8a" stroke-width="1.1"/>
<text x="815.5" y="1614.2" font-size="20.1" text-anchor="end" fill="#000" >+4.0%/yr</text>
<text x="768.5" y="1705.0" font-size="19.9" text-anchor="middle" fill="#000" >India</text>
<text x="131" y="1204.7" font-size="23.3">Per capita CO<tspan font-size="16.8" dy="3.8">2</tspan><tspan dy="-3.8"> emissions</tspan></text>
<line x1="119.5" y1="591.6999999999999" x2="119.5" y2="1090.1" stroke="#4a4a4a" stroke-width="1.2"/>
<line x1="118.9" y1="1089.5" x2="826.8" y2="1089.5" stroke="#4a4a4a" stroke-width="1.2"/>
<line x1="119.5" y1="592.5" x2="126.3" y2="592.5" stroke="#4a4a4a" stroke-width="1.2"/>
<text x="111" y="599.4" font-size="25.2" text-anchor="end" fill="#000" >120 GJ</text>
<line x1="119.5" y1="675.5" x2="126.3" y2="675.5" stroke="#4a4a4a" stroke-width="1.2"/>
<text x="111" y="682.2" font-size="25.2" text-anchor="end" fill="#000" >100</text>
<line x1="119.5" y1="758.5" x2="126.3" y2="758.5" stroke="#4a4a4a" stroke-width="1.2"/>
<text x="111" y="765.1" font-size="25.2" text-anchor="end" fill="#000" >80</text>
<line x1="119.5" y1="841.5" x2="126.3" y2="841.5" stroke="#4a4a4a" stroke-width="1.2"/>
<text x="111" y="848.0" font-size="25.2" text-anchor="end" fill="#000" >60</text>
<line x1="119.5" y1="923.5" x2="126.3" y2="923.5" stroke="#4a4a4a" stroke-width="1.2"/>
<text x="111" y="930.8" font-size="25.2" text-anchor="end" fill="#000" >40</text>
<line x1="119.5" y1="1006.5" x2="126.3" y2="1006.5" stroke="#4a4a4a" stroke-width="1.2"/>
<text x="111" y="1013.6" font-size="25.2" text-anchor="end" fill="#000" >20</text>
<text x="111" y="1096.5" font-size="25.2" text-anchor="end" fill="#000" >0</text>
<text x="110" y="622.5" font-size="16.9" text-anchor="end" fill="#000" >per person</text>
<rect x="148.4" y="602.6" width="29.3" height="486.9" fill="#bdb76b"/>
<rect x="185.0" y="871.6" width="29.3" height="217.9" fill="#1e90ff"/>
<rect x="221.6" y="994.2" width="29.3" height="95.3" fill="#ff0000"/>
<rect x="258.2" y="1012.1" width="29.3" height="77.4" fill="#ffa07a"/>
<rect x="294.8" y="1059.4" width="29.3" height="30.1" fill="#ba55d3"/>
<line x1="236.3" y1="1089.5" x2="236.3" y2="1082.5" stroke="#000" stroke-width="1.2"/>
<rect x="385.6" y="717.1" width="29.3" height="372.4" fill="#bdb76b"/>
<rect x="422.2" y="956.3" width="29.3" height="133.2" fill="#1e90ff"/>
<rect x="458.8" y="1006.4" width="29.3" height="83.1" fill="#ff0000"/>
<rect x="495.4" y="1059.9" width="29.3" height="29.6" fill="#ffa07a"/>
<rect x="532.0" y="1082.6" width="29.3" height="6.9" fill="#ba55d3"/>
<line x1="473.4" y1="1089.5" x2="473.4" y2="1082.5" stroke="#000" stroke-width="1.2"/>
<rect x="622.9" y="921.5" width="29.3" height="168.0" fill="#bdb76b"/>
<rect x="659.5" y="1014.3" width="29.3" height="75.2" fill="#1e90ff"/>
<rect x="696.1" y="1052.0" width="29.3" height="37.5" fill="#ff0000"/>
<rect x="732.7" y="858.3" width="29.3" height="231.2" fill="#ffa07a"/>
<rect x="769.3" y="1031.5" width="29.3" height="58.0" fill="#ba55d3"/>
<line x1="710.8" y1="1089.5" x2="710.8" y2="1082.5" stroke="#000" stroke-width="1.2"/>
<text x="236" y="1119.2" font-size="25.2" text-anchor="middle" fill="#000" >Oil</text>
<text x="473.5" y="1119.2" font-size="25.2" text-anchor="middle" fill="#000" >Natural Gas</text>
<text x="710.5" y="1119.2" font-size="25.2" text-anchor="middle" fill="#000" >Coal</text>
<text x="263.7" y="621.6" font-size="26.75" text-anchor="start" fill="#000" >Annual energy consumption per capita in 2018</text>
<rect x="845.5" y="598.6" width="28.5" height="22.3" fill="#bdb76b"/>
<text x="877.2" y="615.8" font-size="23.8" text-anchor="start" fill="#838383" >USA</text>
<rect x="845.5" y="628.2" width="28.5" height="22.3" fill="#1e90ff"/>
<text x="877.2" y="645.4" font-size="23.8" text-anchor="start" fill="#838383" >EU28</text>
<rect x="845.5" y="657.8" width="28.5" height="22.3" fill="#ff0000"/>
<text x="877.2" y="675.0" font-size="23.8" text-anchor="start" fill="#838383" >Rest of World</text>
<rect x="845.5" y="687.4" width="28.5" height="22.3" fill="#ffa07a"/>
<text x="877.2" y="704.6" font-size="23.8" text-anchor="start" fill="#838383" >China</text>
<rect x="845.5" y="717.0" width="28.5" height="22.3" fill="#ba55d3"/>
<text x="877.2" y="734.2" font-size="23.8" text-anchor="start" fill="#838383" >India</text>
</svg>
</body></html>
